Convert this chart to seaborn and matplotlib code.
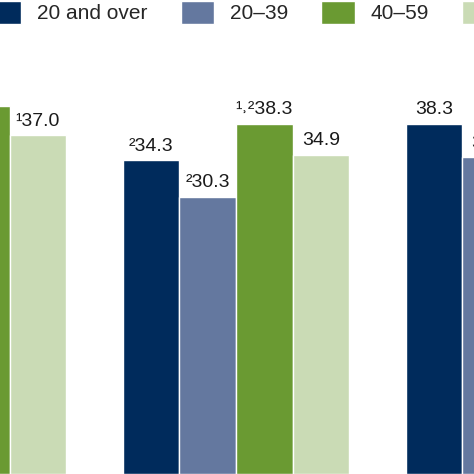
import matplotlib
matplotlib.use("Agg")
import matplotlib.pyplot as plt
import seaborn as sns
import pandas as pd
from matplotlib.patches import Patch

groups = ["A", "B", "C"]
ages = ["20 and over", "20–39", "40–59", "60 and over"]
values = {
    "A": [36.5, 33.0, 40.2, 37.0],
    "B": [34.3, 30.3, 38.3, 34.9],
    "C": [38.3, 34.6, 41.0, 38.0],
}
labels = {
    "A": ["36.5", "33.0", "40.2", "¹37.0"],
    "B": ["²34.3", "²30.3", "¹˒²38.3", "34.9"],
    "C": ["38.3", "34.6", "41.0", "38.0"],
}
colors = ["#002B5C", "#64789F", "#6A9A32", "#CADBB5"]

rows = [(g, a, values[g][i], labels[g][i]) for g in groups for i, a in enumerate(ages)]
df = pd.DataFrame(rows, columns=["group", "age", "value", "label"])

sns.set_theme(style="white")
plt.rcParams['font.family'] = ['Liberation Sans', 'DejaVu Sans']
fig = plt.figure(figsize=(4.74, 4.74), dpi=100)
ax = fig.add_axes([0, 0, 1, 1])
sns.barplot(data=df, x="group", y="value", hue="age", hue_order=ages, order=groups,
            palette=colors, width=0.8, gap=0, saturation=1, ax=ax, legend=False)

for i, a in enumerate(ages):
    cont = ax.containers[i]
    for j, g in enumerate(groups):
        bar = cont[j]
        lab = labels[g][i]
        ax.text(bar.get_x() + bar.get_width() / 2, bar.get_height() + 0.6, lab,
                ha="center", va="bottom", fontsize=14, color="#1a1a1a")

ax.set_xlim(1 - 236 / 283, 1 + 238 / 283)
ax.set_ylim(0, 51.8)
for s in ax.spines.values():
    s.set_visible(False)
ax.set_xticks([]); ax.set_yticks([])
ax.set_xlabel(""); ax.set_ylabel("")

handles = [Patch(facecolor=c, label=a) for c, a in zip(colors, ages)]
fig.legend(handles=handles, ncol=4, loc="upper left", bbox_to_anchor=(-12 / 474, 1 - 1 / 474),
           frameon=False, fontsize=15, handlelength=1.6, handleheight=1.3, handletextpad=0.75,
           columnspacing=1.6, borderpad=0, borderaxespad=0)

fig.savefig("out.png", dpi=100)
